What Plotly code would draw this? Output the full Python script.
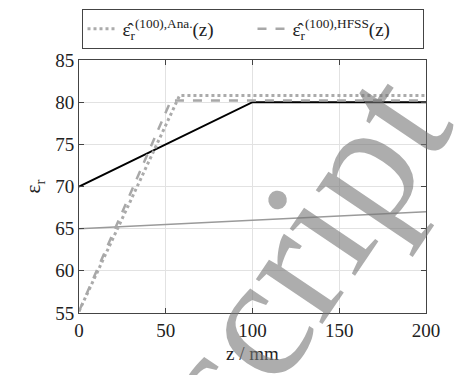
import plotly.graph_objects as go

# Data
z_black = [0, 100, 200]
eps_black = [70, 80, 80]
z_gray = [0, 200]
eps_gray = [65, 67]
z_ana = [0, 58, 200]
eps_ana = [55.2, 80.8, 80.8]
z_hfss = [0, 53, 200]
eps_hfss = [55.2, 80.2, 80.2]
x_ticks = [0, 50, 100, 150, 200]
y_ticks = [55, 60, 65, 70, 75, 80, 85]

FONT = "Liberation Serif"
fig = go.Figure()
fig.add_trace(go.Scatter(x=z_gray, y=eps_gray, mode="lines",
                         line=dict(color="#9a9a9a", width=1.5), showlegend=False))
fig.add_trace(go.Scatter(x=z_black, y=eps_black, mode="lines",
                         line=dict(color="black", width=2), showlegend=False))
fig.add_trace(go.Scatter(x=z_ana, y=eps_ana, mode="lines",
                         line=dict(color="#ababab", width=3, dash="dot"),
                         name="ε̂<sub>r</sub><sup>(100),Ana.</sup>(z)"))
fig.add_trace(go.Scatter(x=z_hfss, y=eps_hfss, mode="lines",
                         line=dict(color="#a8a8a8", width=2.5, dash="dash"),
                         name="ε̂<sub>r</sub><sup>(100),HFSS</sup>(z)"))

ax = dict(showline=True, linecolor="#444", linewidth=1, mirror="ticks",
          ticks="inside", ticklen=5, tickcolor="#444", automargin=False,
          showgrid=True, gridcolor="#e2e2e2", gridwidth=1, zeroline=False,
          tickfont=dict(family=FONT, size=19, color="#222"))

fig.update_xaxes(range=[0, 200], tickvals=x_ticks, title=dict(text="z / mm", font=dict(family=FONT, size=19, color="#222"), standoff=6), **ax)
fig.update_yaxes(range=[55, 85], tickvals=y_ticks, title=dict(text="ε<sub>r</sub>", font=dict(family=FONT, size=21, color="#222"), standoff=8), **ax)

fig.add_annotation(text="script", xref="paper", yref="paper", x=0.632, y=0.235,
                   xanchor="center", yanchor="middle",
                   showarrow=False, textangle=-56, opacity=0.6,
                   font=dict(family=FONT, size=175, color="#777"))

fig.update_layout(width=474, height=375, margin=dict(l=79, r=48, t=60, b=62),
                  plot_bgcolor="white", paper_bgcolor="white",
                  font=dict(family=FONT, color="#222"),
                  legend=dict(orientation="h", x=0.5, xanchor="center",
                              yref="container", y=0.976, yanchor="top",
                              entrywidth=125, entrywidthmode="pixels",
                              bordercolor="#444", borderwidth=1, bgcolor="white",
                              font=dict(family=FONT, size=19)))
fig.write_html("out.html", post_script="document.body.style.margin='0px';",
               config={"displayModeBar": False})
